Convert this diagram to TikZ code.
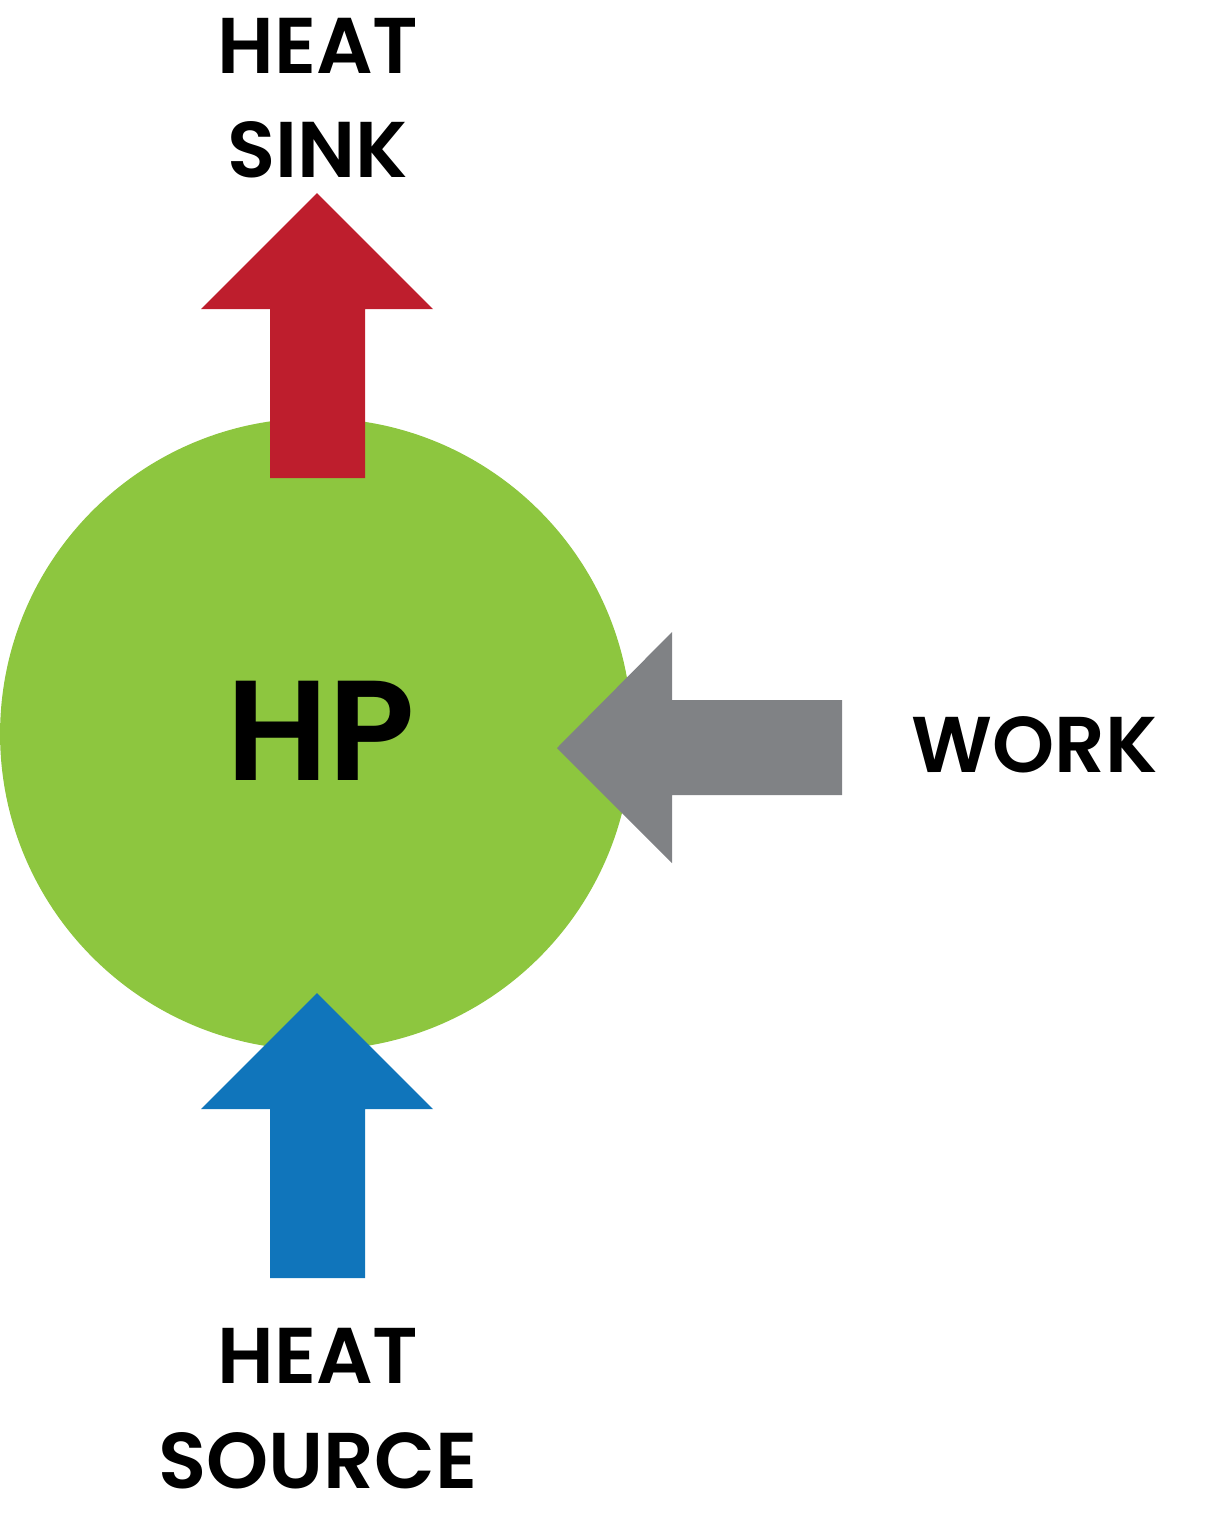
\documentclass[tikz,border=0pt]{standalone}
\usepackage{fontspec}
\setmainfont{Poppins}[BoldFont={Poppins SemiBold}]
\usetikzlibrary{positioning}

\definecolor{hpgreen}{HTML}{8DC63F}
\definecolor{sinkred}{HTML}{BE1E2D}
\definecolor{sourceblue}{HTML}{1075BB}
\definecolor{workgray}{HTML}{808285}

\begin{document}
\begin{tikzpicture}[
    x=0.02cm, y=-0.02cm,
    pump/.style    = {circle, fill=hpgreen, minimum size=12.64cm, inner sep=0pt},
    label/.style   = {anchor=base, inner sep=0pt, font=\fontsize{45}{54}\selectfont\bfseries},
    biglabel/.style= {anchor=base, inner sep=0pt, font=\fontsize{81}{96}\selectfont\bfseries},
    flow/.style    = {draw=none}
]
    \useasboundingbox (0,0) rectangle (1212,1536);

    % --- Pompa Kalor ---
    \node (hp) [pump] at (316,734) {};
    \node (hptext) [biglabel] at (321,780) {HP};

    % --- Panah Keluar (Heat Sink) ---
    \coordinate (sinktip) at (317,193);
    \fill [flow, sinkred] (sinktip) -- (433,309) -- (365,309) -- (365,478)
        -- (270,478) -- (270,309) -- (201,309) -- cycle;
    \node (heat1) [label] at (318,73) {HEAT};
    \node (sink)  [label] at (318,177) {SINK};

    % --- Panah Masuk (Heat Source) ---
    \coordinate (sourcetip) at (317,993);
    \fill [flow, sourceblue] (sourcetip) -- (433,1109) -- (365,1109) -- (365,1278)
        -- (270,1278) -- (270,1109) -- (201,1109) -- cycle;
    \node (heat2)  [label] at (318,1383) {HEAT};
    \node (source) [label] at (318,1488) {SOURCE};

    % --- Panah Kerja (Work) ---
    \coordinate (worktip) at (557,748);
    \fill [flow, workgray] (worktip) -- (672,632) -- (672,700) -- (842,700)
        -- (842,795) -- (672,795) -- (672,863) -- cycle;
    \node (work) [label] at (1035,772) {WORK};

\end{tikzpicture}
\end{document}
